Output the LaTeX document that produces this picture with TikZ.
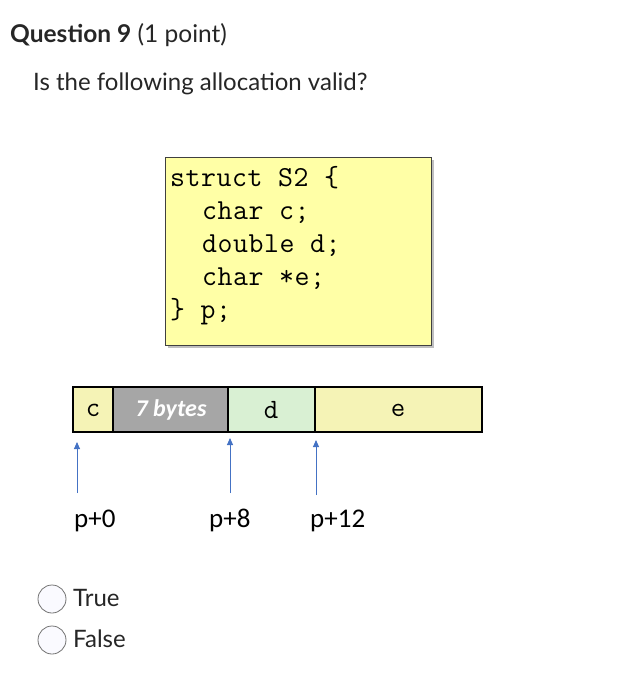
\documentclass[tikz,border=0pt]{standalone}
\usepackage{fontspec}
\setmainfont{Lato}
\setmonofont[LetterSpace=2]{Latin Modern Mono}
\newfontfamily\calfont{Carlito}
\usetikzlibrary{arrows.meta}
\definecolor{codebg}{HTML}{FFFFA6}
\definecolor{cellyellow}{HTML}{F5F3B6}
\definecolor{cellgray}{HTML}{A6A6A6}
\definecolor{cellgreen}{HTML}{D9F0D3}
\definecolor{arrowblue}{HTML}{4472C4}
\tikzset{
  codeline/.style={anchor=base west, inner sep=0pt, font=\ttfamily\fontsize{29}{31}\selectfont},
  cell/.style={draw=black, line width=2pt},
  celltext/.style={inner sep=0pt, font=\ttfamily\fontsize{28}{30}\selectfont},
  ptr/.style={draw=arrowblue, line width=0.9pt, -{Triangle[length=7pt,width=6pt]}},
  ptrlabel/.style={anchor=base west, inner sep=0pt, font=\calfont\fontsize{27}{30}\selectfont},
  radio/.style={circle, draw=gray!90!black, fill=blue!2, line width=0.8pt, minimum size=28pt, inner sep=0pt},
  answer/.style={anchor=base west, inner sep=0pt, font=\fontsize{24}{27}\selectfont, text=black!85},
}
\begin{document}
\begin{tikzpicture}[x=1pt,y=-1pt]
\useasboundingbox (0,0) rectangle (617,678);
% title
\node[anchor=base west, inner sep=0pt, text=black!85, font=\fontsize{24.5}{28}\selectfont] (title) at (10,42) {\textbf{Question 9} (1 point)};
\node[anchor=base west, inner sep=0pt, text=black!85, font=\fontsize{24}{28}\selectfont] (q) at (33,90) {Is the following allocation valid?};
% code box
\fill[black!25] (168,160) rectangle (434,348);
\draw[fill=codebg, draw=black!75, line width=0.8pt] (165,157) rectangle (431,345);
\node[codeline] (l1) at (170,186) {struct S2 \{};
\node[codeline] (l2) at (202,219) {char c;};
\node[codeline] (l3) at (202,252) {double d;};
\node[codeline] (l4) at (202,285) {char *e;};
\node[codeline] (l5) at (170,318) {\} p;};
% memory layout
\draw[cell, fill=cellyellow] (73,387) rectangle (113,432);
\draw[cell, fill=cellgray] (113,387) rectangle (228,432);
\draw[cell, fill=cellgreen] (228,387) rectangle (315,432);
\draw[cell, fill=cellyellow] (315,387) rectangle (482,432);
\node[celltext] (c) at (93,410) {c};
\node[inner sep=0pt, text=white, font=\calfont\fontsize{24}{26}\selectfont\bfseries\itshape] (pad) at (171,410) {7 bytes};
\node[celltext] (d) at (271,410) {d};
\node[celltext] (e) at (398,410) {e};
% pointers
\coordinate (a0s) at (77,493);
\coordinate (a0e) at (77,442);
\coordinate (a8s) at (230,493);
\coordinate (a8e) at (230,438);
\coordinate (a12s) at (316,495);
\coordinate (a12e) at (316,440);
\draw[ptr] (a0s) -- (a0e);
\draw[ptr] (a8s) -- (a8e);
\draw[ptr] (a12s) -- (a12e);
\node[ptrlabel] (p0) at (74,527) {p+0};
\node[ptrlabel] (p8) at (209,527) {p+8};
\node[ptrlabel] (p12) at (310,527) {p+12};
% answers
\node[radio] (r1) at (52,599) {};
\node[radio] (r2) at (52,640) {};
\node[answer] (t) at (73,606) {True};
\node[answer] (f) at (73,647) {False};
\end{tikzpicture}
\end{document}
